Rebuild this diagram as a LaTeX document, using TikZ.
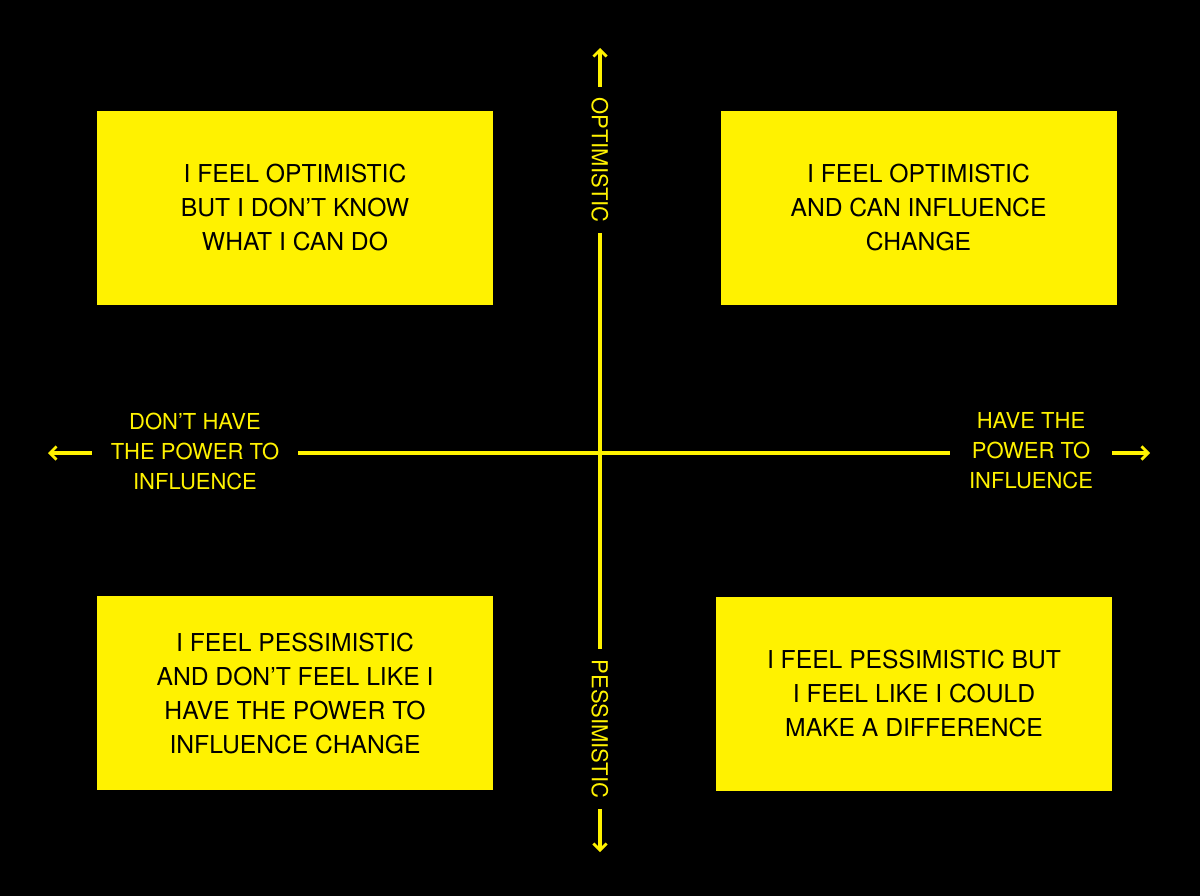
\documentclass[tikz,border=0pt]{standalone}
\usepackage{fontspec}
\setmainfont{TeX Gyre Heros}
\usetikzlibrary{arrows.meta}
\definecolor{ylw}{HTML}{FFF200}
\begin{document}
\begin{tikzpicture}[x=0.75pt,y=-0.75pt,
  box/.style={fill=ylw,text=black,minimum width=297pt,minimum height=145.5pt,align=center,inner sep=0pt,font=\fontsize{18.5}{25.5}\selectfont},
  axlab/.style={fill=black,text=ylw,align=center,inner sep=4pt,font=\fontsize{16.5}{22.5}\selectfont},
  axis/.style={draw=ylw,line width=2.3pt,-{Straight Barb[length=5pt,width=10pt,line width=2pt]}}]
\fill[black] (0,0) rectangle (1200,896);
\useasboundingbox (0,0) rectangle (1200,896);
\coordinate (top) at (600,48);
\coordinate (bot) at (600,852);
\coordinate (lft) at (48,453);
\coordinate (rgt) at (1150,453);
\coordinate (ctr) at (600,453);
\draw[axis] (ctr) -- (top);
\draw[axis] (ctr) -- (bot);
\draw[axis] (ctr) -- (lft);
\draw[axis] (ctr) -- (rgt);
\node[axlab,rotate=-90,inner xsep=8pt] (opt) at (600,160) {OPTIMISTIC};
\node[axlab,rotate=-90,inner xsep=8pt] (pes) at (600,729) {PESSIMISTIC};
\node[axlab,inner xsep=14pt] (dh) at (195,451) {DON'T HAVE\\THE POWER TO\\INFLUENCE};
\node[axlab,inner xsep=14pt] (hv) at (1031,451) {HAVE THE\\POWER TO\\INFLUENCE};
\node[box] (tl) at (295,208) {I FEEL OPTIMISTIC\\BUT I DON'T KNOW\\WHAT I CAN DO};
\node[box] (tr) at (918.5,208) {I FEEL OPTIMISTIC\\AND CAN INFLUENCE\\CHANGE};
\node[box] (bl) at (295,693) {I FEEL PESSIMISTIC\\AND DON'T FEEL LIKE I\\HAVE THE POWER TO\\INFLUENCE CHANGE};
\node[box] (br) at (914,693.5) {I FEEL PESSIMISTIC BUT\\I FEEL LIKE I COULD\\MAKE A DIFFERENCE};
\end{tikzpicture}
\end{document}
